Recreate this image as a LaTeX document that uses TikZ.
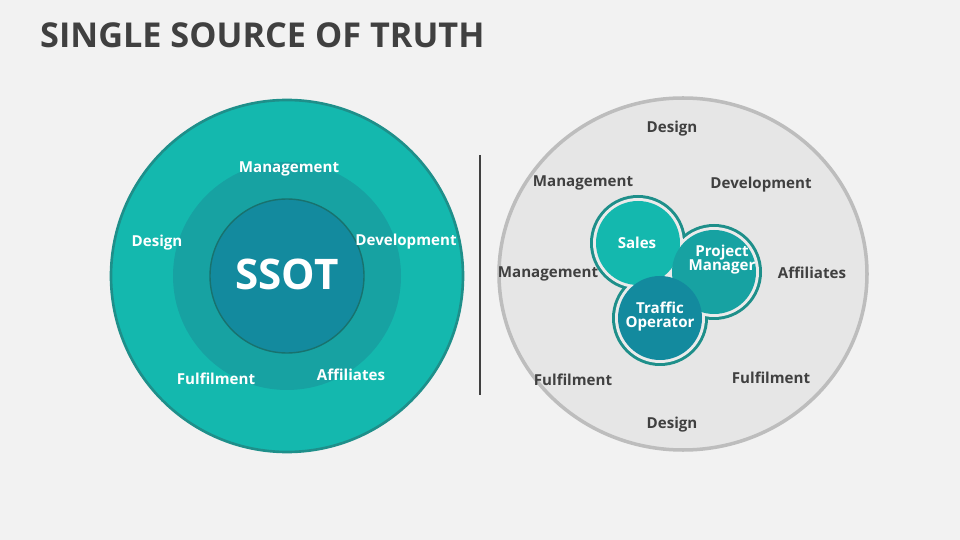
\documentclass[tikz,border=0pt]{standalone}
\usepackage{fontspec}
\setmainfont{Open Sans}
\definecolor{bgc}{HTML}{F2F2F2}
\definecolor{tealA}{HTML}{14B8AE}
\definecolor{tealB}{HTML}{17A2A2}
\definecolor{tealC}{HTML}{138A9E}
\definecolor{tealD}{HTML}{1E8F8A}
\definecolor{greyfill}{HTML}{E6E6E6}
\definecolor{greyline}{HTML}{BDBDBD}
\definecolor{txt}{HTML}{404040}
\tikzset{
	wlabel/.style={text=white,font=\bfseries\fontsize{8.6}{10}\selectfont,align=center},
	glabel/.style={text=txt,font=\bfseries\fontsize{8.6}{10}\selectfont},
}
\begin{document}
\begin{tikzpicture}[x=0.02cm,y=-0.02cm]
	\fill[bgc] (0,0) rectangle (960,540);
	\useasboundingbox (0,0) rectangle (960,540);
	\node[anchor=west,text=txt,font=\bfseries\fontsize{19.5}{24}\selectfont] (title) at (34,35) {SINGLE SOURCE OF TRUTH};
	% left
	\draw[fill=tealA,draw=tealD,line width=1.5pt] (287,276) circle (176);
	\fill[tealB] (287,276) circle (114);
	\draw[fill=tealC,draw=tealD!80!black,line width=0.8pt] (287,276) circle (77);
	\node[text=white,font=\bfseries\fontsize{24}{28}\selectfont] (ssot) at (287,274) {SSOT};
	\node[wlabel] (l1) at (289,169) {Management};
	\node[wlabel] (l2) at (157,243) {Design};
	\node[wlabel] (l3) at (406,242) {Development};
	\node[wlabel] (l4) at (216,379) {Fulfilment};
	\node[wlabel] (l5) at (351,375) {Affiliates};
	% divider
	\draw[txt,line width=1.2pt] (480,155) -- (480,395);
	% right
	\draw[fill=greyfill,draw=greyline,line width=2pt] (683,274) ellipse (184 and 176);
	\foreach \cx/\cy in {638/243,714/272,660/318}
		\fill[tealD] (\cx,\cy) circle (48);
	\foreach \cx/\cy in {638/243,714/272,660/318}
		\fill[white!92!black] (\cx,\cy) circle (45);
	\fill[tealA] (638,243) circle (42);
	\fill[tealB] (714,272) circle (42);
	\fill[tealC] (660,318) circle (42);
	\node[wlabel] (sales) at (637,243) {Sales};
	\node[wlabel] (pm) at (722,260) {Project\\[-2pt]Manager};
	\node[wlabel] (traffic) at (660,317) {Traffic\\[-2pt]Operator};
	\node[glabel] (r1) at (672,129) {Design};
	\node[glabel] (r2) at (583,183) {Management};
	\node[glabel] (r3) at (761,185) {Development};
	\node[glabel] (r4) at (548,274) {Management};
	\node[glabel] (r5) at (812,273) {Affiliates};
	\node[glabel] (r6) at (573,380) {Fulfilment};
	\node[glabel] (r7) at (771,378) {Fulfilment};
	\node[glabel] (r8) at (672,425) {Design};
\end{tikzpicture}
\end{document}
